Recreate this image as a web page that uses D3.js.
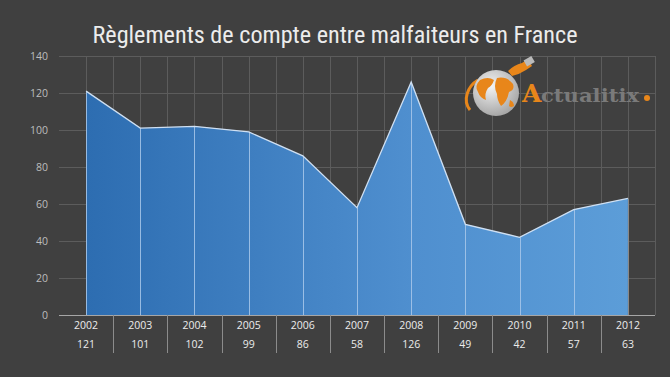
<!DOCTYPE html>
<html><head><meta charset="utf-8">
<script src="https://cdn.jsdelivr.net/npm/d3@7"></script>
<style>html,body{margin:0;padding:0;background:#404040;}svg{display:block;}</style>
</head><body>
<svg id="c" width="670" height="377"></svg>
<script>
const years = ["2002","2003","2004","2005","2006","2007","2008","2009","2010","2011","2012"];
const values = [121,101,102,99,86,58,126,49,42,57,63];
const yTicks = [0,20,40,60,80,100,120,140];
const title = "Règlements de compte entre malfaiteurs en France";

const svg = d3.select("#c");
const W = 670, H = 377;
svg.append("rect").attr("width",W).attr("height",H).attr("fill","#404040");

const x = d3.scaleBand().domain(years).range([59,655]).padding(0);
const xc = d => x(d) + x.bandwidth()/2;
const y = d3.scaleLinear().domain([0,140]).range([315,56]);

const defs = svg.append("defs");
const grad = defs.append("linearGradient").attr("id","g").attr("x1","0").attr("x2","1").attr("y1","0").attr("y2","0");
grad.append("stop").attr("offset","0%").attr("stop-color","#2d6db1");
grad.append("stop").attr("offset","60%").attr("stop-color","#4f8fcf");
grad.append("stop").attr("offset","100%").attr("stop-color","#5c9dd8");

const FONT = "'Open Sans','Liberation Sans',sans-serif";

// title
svg.append("text").attr("x",335).attr("y",43).attr("text-anchor","middle")
  .attr("font-family","'Liberation Sans Narrow','Arial Narrow','Roboto Condensed',sans-serif")
  .attr("font-size",23).attr("fill","#ececec")
  .attr("textLength",485).attr("lengthAdjust","spacingAndGlyphs")
  .text(title);

// horizontal gridlines
const grid = svg.append("g");
grid.selectAll("line.h").data(yTicks.filter(t=>t>0)).join("line")
  .attr("x1",59).attr("x2",655).attr("y1",d=>Math.round(y(d))+0.5).attr("y2",d=>Math.round(y(d))+0.5)
  .attr("stroke","#5c5c5c").attr("stroke-width",1);
// vertical gridlines at centers and boundaries
const vx = [];
years.forEach((yr,i)=>{ vx.push(xc(yr)); if(i>0) vx.push(x(yr)); });
vx.push(655);
grid.selectAll("line.v").data(vx).join("line")
  .attr("x1",d=>Math.round(d)+0.5).attr("x2",d=>Math.round(d)+0.5).attr("y1",y(140)).attr("y2",315)
  .attr("stroke","#5c5c5c").attr("stroke-width",1);

// area
const area = d3.area().x((d,i)=>xc(years[i])).y0(y(0)).y1(d=>y(d));
svg.append("path").datum(values).attr("d",area).attr("fill","url(#g)");
// drop lines
svg.selectAll("line.drop").data(values.slice(0,-1)).join("line")
  .attr("x1",(d,i)=>Math.round(xc(years[i]))+0.5).attr("x2",(d,i)=>Math.round(xc(years[i]))+0.5)
  .attr("y1",d=>y(d)).attr("y2",315)
  .attr("stroke","#a9c8ea").attr("stroke-opacity",0.85).attr("stroke-width",1);
svg.append("line").attr("x1",Math.round(xc("2012"))+0.5).attr("x2",Math.round(xc("2012"))+0.5)
  .attr("y1",y(values[values.length-1])).attr("y2",315).attr("stroke","#8a8a8a");
// top outline
const line = d3.line().x((d,i)=>xc(years[i])).y(d=>y(d));
svg.append("path").datum(values).attr("d",line).attr("fill","none")
  .attr("stroke","#cfe0f3").attr("stroke-width",1.3);

// y axis labels
svg.selectAll("text.yt").data(yTicks).join("text")
  .attr("x",48).attr("y",d=>y(d)+4).attr("text-anchor","end")
  .attr("font-family",FONT).attr("font-size",10.5)
  .attr("fill","#bdbdbd").text(d=>d);

// x axis line
svg.append("line").attr("x1",59).attr("x2",655).attr("y1",315.5).attr("y2",315.5)
  .attr("stroke","#a6a6a6").attr("stroke-width",1);
// table separators
svg.selectAll("line.sep").data(years.slice(1)).join("line")
  .attr("x1",d=>Math.round(x(d))+0.5).attr("x2",d=>Math.round(x(d))+0.5)
  .attr("y1",315).attr("y2",353).attr("stroke","#8c8c8c");
// table text
svg.selectAll("text.yr").data(years).join("text")
  .attr("x",d=>xc(d)).attr("y",328.5).attr("text-anchor","middle")
  .attr("font-family",FONT).attr("font-size",10.5).attr("fill","#ececec").text(d=>d);
svg.selectAll("text.val").data(values).join("text")
  .attr("x",(d,i)=>xc(years[i])).attr("y",347.5).attr("text-anchor","middle")
  .attr("font-family",FONT).attr("font-size",10.5).attr("fill","#ececec").text(d=>d);

// logo
const logo = svg.append("g");
const rg = defs.append("radialGradient").attr("id","globe").attr("cx","40%").attr("cy","35%").attr("r","65%");
rg.append("stop").attr("offset","0%").attr("stop-color","#f4f4f4");
rg.append("stop").attr("offset","100%").attr("stop-color","#a8a8a8");
logo.append("path").attr("d","M470,110 C462,100 468,86 478,80").attr("fill","none").attr("stroke","#e8861a").attr("stroke-width",3);
logo.append("circle").attr("cx",496).attr("cy",93).attr("r",23).attr("fill","url(#globe)");
logo.append("path").attr("d","M480,80 q8,-4 14,0 q-2,6 -6,8 q-4,6 -2,12 q-6,-2 -8,-8 q-4,-6 2,-12 z").attr("fill","#e8861a");
logo.append("path").attr("d","M497,78 q10,-2 16,6 q2,6 -4,8 q-2,10 -8,14 q-4,-6 -4,-12 q-4,-8 0,-16 z").attr("fill","#e8861a");
logo.append("path").attr("d","M510,100 q4,2 4,6 q-3,2 -5,0 z").attr("fill","#e8861a");
logo.append("path").attr("d","M508,71 q6,-6 14,-8 l6,-4 l4,7 l-6,4 q-6,4 -14,6 z").attr("fill","#e8861a");
logo.append("rect").attr("x",525).attr("y",58).attr("width",9).attr("height",7).attr("fill","#bbb").attr("transform","rotate(-30,529,62)");
logo.append("text").attr("x",522).attr("y",102).attr("font-family","'DejaVu Serif','Liberation Serif',serif")
  .attr("font-weight","bold").attr("font-size",25).attr("fill","#e8861a").text("A");
logo.append("text").attr("x",541).attr("y",102).attr("font-family","'DejaVu Serif','Liberation Serif',serif")
  .attr("font-weight","bold").attr("font-size",18).attr("fill","#7a7a7a")
  .attr("textLength",98).attr("lengthAdjust","spacingAndGlyphs").text("ctualitix");
logo.append("circle").attr("cx",647).attr("cy",98).attr("r",3).attr("fill","#e8861a");
</script>
</body></html>
